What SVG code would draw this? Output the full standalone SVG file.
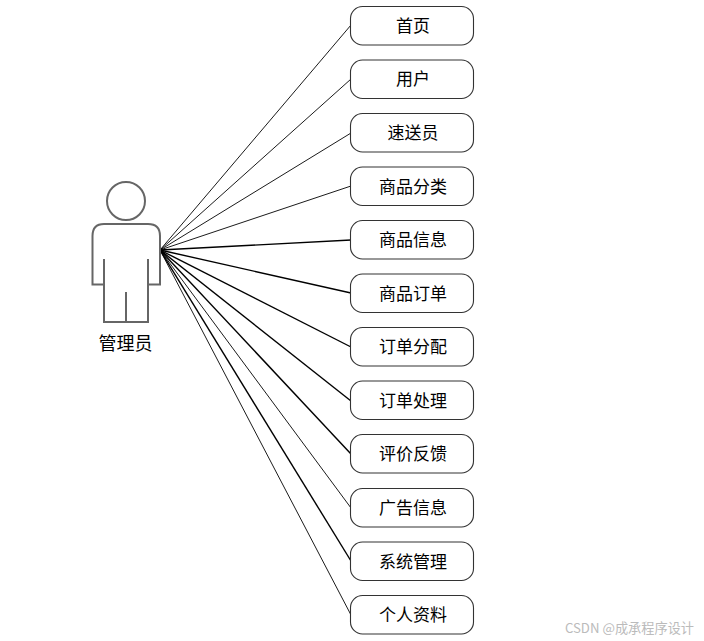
<svg xmlns="http://www.w3.org/2000/svg" width="704" height="641" viewBox="0 0 704 641">
<style>
text{font-family:"Noto Sans CJK SC","Liberation Sans",sans-serif;text-anchor:middle;fill:#000}
.n rect{fill:#fff;stroke:#333;stroke-width:1.1}
.n text{font-size:17px}
#connectors line{stroke:#000;stroke-width:.9}
.p{fill:none;stroke:#666;stroke-width:2}
</style>
<rect width="704" height="641" fill="#fff"/>
<g id="connectors">
<line x1="160" y1="250" x2="351" y2="25"/>
<line x1="160" y1="250" x2="351" y2="79"/>
<line x1="160" y1="250" x2="351" y2="133"/>
<line x1="160" y1="250" x2="351" y2="186"/>
<line x1="160" y1="250" x2="351" y2="240" style="stroke-width:1.4"/>
<line x1="160" y1="250" x2="351" y2="293" style="stroke-width:1.4"/>
<line x1="160" y1="250" x2="351" y2="347" style="stroke-width:1.4"/>
<line x1="160" y1="250" x2="351" y2="401" style="stroke-width:1.4"/>
<line x1="160" y1="250" x2="351" y2="454" style="stroke-width:1.4"/>
<line x1="160" y1="250" x2="351" y2="508"/>
<line x1="160" y1="250" x2="351" y2="561" style="stroke-width:1.4"/>
<line x1="160" y1="250" x2="351" y2="615"/>
</g>
<g id="actor">
<circle class="p" cx="126" cy="201" r="19"/>
<path class="p" d="M104 224H148Q160 224 160 236V284.500H148M104 224Q92.500 224 92.500 236V284.500H104M104 259V322H148V259M126 292V322"/>
<text x="125.500" y="350" style="font-size:18px">管理员</text>
</g>
<g id="n1" class="n"><rect x="350.500" y="6.500" width="123" height="38.500" rx="12"/><text x="413" y="32">首页</text></g>
<g id="n2" class="n"><rect x="350.500" y="60" width="123" height="38.500" rx="12"/><text x="413" y="85">用户</text></g>
<g id="n3" class="n"><rect x="350.500" y="113.500" width="123" height="38.500" rx="12"/><text x="413" y="139">速送员</text></g>
<g id="n4" class="n"><rect x="350.500" y="167" width="123" height="38.500" rx="12"/><text x="413" y="192.500">商品分类</text></g>
<g id="n5" class="n"><rect x="350.500" y="220.500" width="123" height="38.500" rx="12"/><text x="413" y="246">商品信息</text></g>
<g id="n6" class="n"><rect x="350.500" y="274" width="123" height="38.500" rx="12"/><text x="413" y="299.500">商品订单</text></g>
<g id="n7" class="n"><rect x="350.500" y="327.500" width="123" height="38.500" rx="12"/><text x="413" y="353">订单分配</text></g>
<g id="n8" class="n"><rect x="350.500" y="381" width="123" height="38.500" rx="12"/><text x="413" y="407">订单处理</text></g>
<g id="n9" class="n"><rect x="350.500" y="434.500" width="123" height="38.500" rx="12"/><text x="413" y="460">评价反馈</text></g>
<g id="n10" class="n"><rect x="350.500" y="488.500" width="123" height="38.500" rx="12"/><text x="413" y="514">广告信息</text></g>
<g id="n11" class="n"><rect x="350.500" y="542" width="123" height="38.500" rx="12"/><text x="413" y="567.500">系统管理</text></g>
<g id="n12" class="n"><rect x="350.500" y="595.500" width="123" height="38.500" rx="12"/><text x="413" y="621">个人资料</text></g>
<text x="629.500" y="633" style="font-size:13.200px;fill:#bbb">CSDN @成承程序设计</text>
</svg>
